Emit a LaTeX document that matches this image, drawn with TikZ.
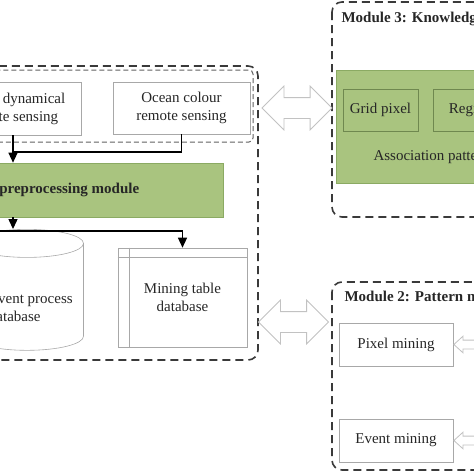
\documentclass[tikz,border=0pt]{standalone}
\usepackage{fontspec}
\setmainfont{Liberation Serif}
\usetikzlibrary{arrows.meta, shapes.geometric, shapes.arrows}

\definecolor{panelgreen}{HTML}{A9C47F}
\definecolor{edgegreen}{HTML}{8BAA63}
\definecolor{boxgray}{HTML}{A8A8A8}
\definecolor{dashgray}{HTML}{3A3A3A}

\begin{document}
\begin{tikzpicture}[x=1pt, y=-1pt,
  every node/.style={font=\fontsize{15}{18}\selectfont, text=black!85},
  module/.style={draw=dashgray, line width=1.6pt, dash pattern=on 8pt off 5pt, rounded corners=10pt},
  group/.style={draw=dashgray!80, line width=1pt, dash pattern=on 5pt off 3pt, rounded corners=4pt},
  plainbox/.style={draw=boxgray, line width=0.6pt, rectangle, align=center, inner sep=0pt},
  greenbox/.style={draw=edgegreen, fill=panelgreen, line width=0.6pt, inner sep=0pt},
  flow/.style={line width=1.3pt, -{Triangle[length=10pt,width=9pt]}},
  twoway/.style={double arrow, draw=boxgray!70, fill=white, line width=0.8pt, minimum height=70pt, double arrow head extend=11.5pt, double arrow tip angle=90, inner sep=0pt},
  feed/.style={single arrow, draw=boxgray!70, fill=white, line width=0.8pt, shape border rotate=180, minimum height=40pt, single arrow head extend=4pt, single arrow tip angle=85, inner sep=0pt},
  title/.style={font=\fontsize{15}{18}\selectfont\bfseries, anchor=west}]
\useasboundingbox (0,0) rectangle (474,474);
\clip (0,0) rectangle (474,474);

% module 1
\draw[module] (-200,66) rectangle (258,360);
\draw[group] (-200,70) rectangle (253,142);
\node[plainbox, minimum width=137pt, minimum height=53pt] (ods) at (13,108.5) {Ocean dynamical\\remote sensing};
\node[plainbox, minimum width=137pt, minimum height=52pt] (ocs) at (181.5,108) {Ocean colour\\remote sensing};
\node[greenbox, minimum width=342pt, minimum height=54pt, font=\fontsize{15}{18}\selectfont\bfseries] (pre) at (52,190) {Data preprocessing module};
\draw[flow] (ods.south) -- (ods.south |- pre.north);
\draw[line width=1.3pt] (ocs.south) |- (ods.south |- 0,152);

\node[cylinder, shape border rotate=90, draw=boxgray, line width=0.6pt, aspect=0.27, minimum width=113pt, minimum height=121pt, inner sep=0pt] (evt) at (27,297)
  {\raisebox{-14pt}[0pt][0pt]{\hspace{14pt}\parbox{90pt}{\raggedright Event process\\database}}};
\node[plainbox, minimum width=129pt, minimum height=99pt] (mtd) at (182.5,297.5) {Mining table\\database};
\draw[boxgray, line width=0.6pt] ([xshift=12pt]mtd.north west) -- ([xshift=12pt]mtd.south west)
  ([yshift=-10pt]mtd.north west) -- ([yshift=-10pt]mtd.north east);
\coordinate (fork) at (-80,231);
\draw[flow] (pre.south -| ods.south) -- (ods.south |- evt.north);
\draw[flow] (fork) -| (mtd.north);

% module 3
\draw[module] (332,2) rectangle (700,217);
\node[title] (m3) at (338,19) {Module 3: Knowledge discovery};
\node[greenbox, minimum width=364pt, minimum height=113pt, anchor=north west] (assoc) at (336,70) {};
\node[greenbox, draw=edgegreen!80!black, minimum width=75pt, minimum height=42pt] (gp) at (380.5,110) {Grid pixel};
\node[greenbox, draw=edgegreen!80!black, minimum width=75pt, minimum height=42pt] (rg) at (470.5,110) {Region};
\node[anchor=west] (apt) at (370,157) {Association patterns};

% module 2
\draw[module] (332,282) rectangle (700,470);
\node[title] (m2) at (341,298) {Module 2: Pattern mining};
\node[plainbox, minimum width=114pt, minimum height=43pt] (pm) at (396,344.5) {Pixel mining};
\node[plainbox, minimum width=114pt, minimum height=43pt] (em) at (396,440.5) {Event mining};
\node[feed, anchor=tip] (pmin) at (pm.east) {\rule{0pt}{8pt}};
\node[feed, anchor=tip] (emin) at (em.east) {\rule{0pt}{8pt}};

% links between modules
\node[twoway] (link3) at (297,108) {\rule{0pt}{20pt}};
\node[twoway] (link2) at (293.5,322) {\rule{0pt}{20pt}};
\end{tikzpicture}
\end{document}
